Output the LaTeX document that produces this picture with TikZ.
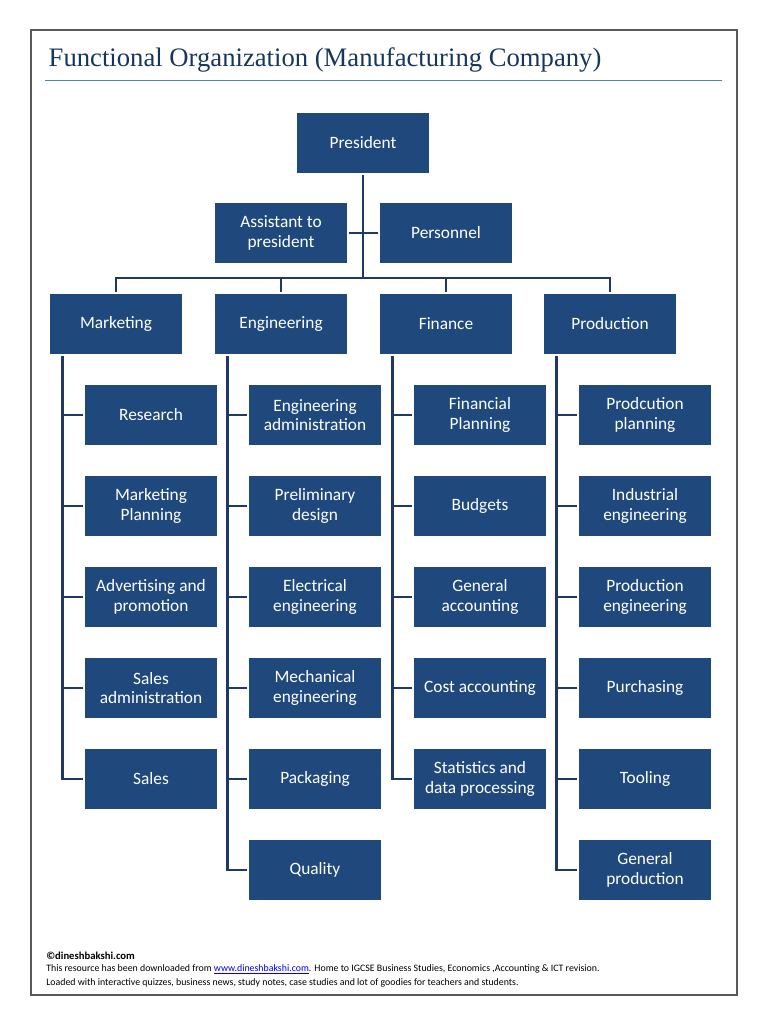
\documentclass[tikz,border=0pt]{standalone}
\usepackage{fontspec}
\setmainfont{Carlito}
\newfontfamily\titlefont{Liberation Serif}
\usetikzlibrary{positioning}
\definecolor{boxblue}{HTML}{1F497D}
\definecolor{linkblue}{HTML}{1F3864}
\definecolor{ruleblue}{HTML}{4F81BD}
\definecolor{titleblue}{HTML}{17365D}
\begin{document}
\begin{tikzpicture}[
    x=0.75pt, y=-0.75pt,
    unit/.style={draw=white, line width=0.8pt, fill=boxblue, text=white, minimum width=100.5pt, minimum height=46.5pt, inner sep=1pt, align=center, font=\fontsize{13}{14.5}\selectfont},
    link/.style={linkblue, line width=2.2pt}
  ]
    \useasboundingbox (0,0) rectangle (768,1024);
    \draw[gray!70!black, line width=0.8pt] (31,30) rectangle (737,995);
    \node[anchor=west, text=titleblue, font=\titlefont\fontsize{20}{22}\selectfont] (title) at (44,60) {Functional Organization (Manufacturing Company)};
    \draw[ruleblue, line width=0.7pt] (45,80) -- (722,80);

    % top
    \node[unit] (pres) at (363,143) {President};
    \node[unit] (asst) at (281,233) {Assistant to\\president};
    \node[unit] (pers) at (446,233) {Personnel};

    % departments
    \node[unit] (mkt) at (116,324) {Marketing};
    \node[unit] (eng) at (281,324) {Engineering};
    \node[unit] (fin) at (446,324) {Finance};
    \node[unit] (prod) at (610,324) {Production};

    % marketing
    \node[unit] (m1) at (151,415) {Research};
    \node[unit] (m2) at (151,506) {Marketing\\Planning};
    \node[unit] (m3) at (151,597) {Advertising and\\promotion};
    \node[unit] (m4) at (151,688) {Sales\\administration};
    \node[unit] (m5) at (151,779) {Sales};

    % engineering
    \node[unit] (e1) at (315,415) {Engineering\\administration};
    \node[unit] (e2) at (315,506) {Preliminary\\design};
    \node[unit] (e3) at (315,597) {Electrical\\engineering};
    \node[unit] (e4) at (315,688) {Mechanical\\engineering};
    \node[unit] (e5) at (315,779) {Packaging};
    \node[unit] (e6) at (315,870) {Quality};

    % finance
    \node[unit] (f1) at (480,415) {Financial\\Planning};
    \node[unit] (f2) at (480,506) {Budgets};
    \node[unit] (f3) at (480,597) {General\\accounting};
    \node[unit] (f4) at (480,688) {Cost accounting};
    \node[unit] (f5) at (480,779) {Statistics and\\data processing};

    % production
    \node[unit] (p1) at (645,415) {Prodcution\\planning};
    \node[unit] (p2) at (645,506) {Industrial\\engineering};
    \node[unit] (p3) at (645,597) {Production\\engineering};
    \node[unit] (p4) at (645,688) {Purchasing};
    \node[unit] (p5) at (645,779) {Tooling};
    \node[unit] (p6) at (645,870) {General\\production};

    % links
    \coordinate (bus) at (363,278);
    \draw[link] (pres.south) -- (bus);
    \draw[link] (asst.east) -- (pers.west);
    \draw[link] (mkt.north) |- (bus) -| (prod.north);
    \draw[link] (eng.north) |- (bus) -| (fin.north);
    \foreach \d/\c/\n in {mkt/m/5, eng/e/6, fin/f/5, prod/p/6} {
      \draw[link] ([xshift=14*0.75pt]\d.south west) |- (\c\n.west);
      \foreach \k in {1,...,\n}
        \draw[link] (\c\k.west) -- ++(-21,0);
    }

    % footer
    \node[anchor=west, font=\fontsize{8}{9}\selectfont\bfseries, inner sep=0] (copy) at (46,956) {©dineshbakshi.com};
    \node[anchor=north west, align=left, font=\fontsize{7.4}{10.5}\selectfont, inner sep=0] (foot) at (46,964) {This resource has been downloaded from \textcolor{blue}{\underline{www.dineshbakshi.com}}. Home to IGCSE Business Studies, Economics ,Accounting \& ICT revision.\\Loaded with interactive quizzes, business news, study notes, case studies and lot of goodies for teachers and students.};
\end{tikzpicture}
\end{document}
